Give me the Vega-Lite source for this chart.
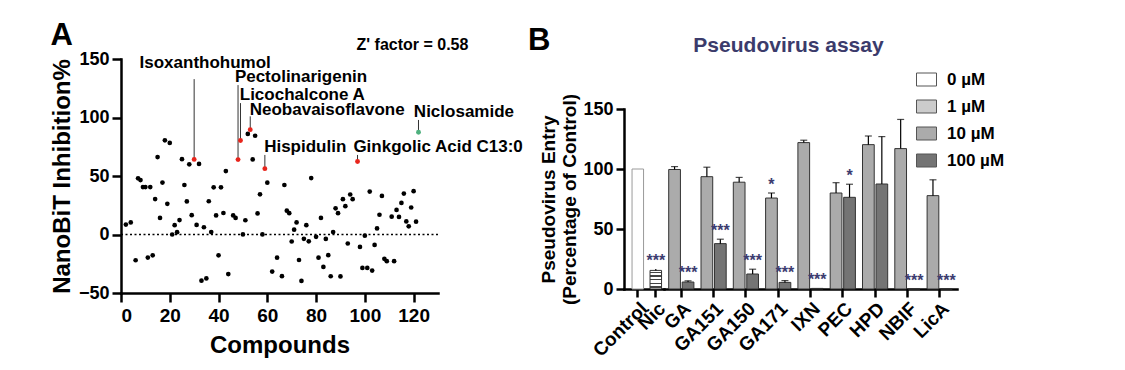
{
  "$schema": "https://vega.github.io/schema/vega-lite/v6.json",
  "padding": {"left": 50, "top": 20, "right": 5, "bottom": 5},
  "bounds": "flush",
  "spacing": 186,
  "config": {
    "font": "Liberation Sans",
    "view": {"stroke": null},
    "axis": {"domainColor": "#000", "tickColor": "#000", "labelColor": "#000", "titleColor": "#000", "labelFontWeight": "bold", "titleFontWeight": "bold", "grid": false, "domainWidth": 2.5, "tickWidth": 2.5, "domainCap": "square"}
  },
  "datasets": {
    "screen": [
      {"n":2,"v":8.5},{"n":4,"v":10.3},{"n":6,"v":-22},{"n":7,"v":48},{"n":8,"v":46.5},{"n":9,"v":40.5},{"n":10,"v":40.5},{"n":11,"v":-19.7},{"n":12,"v":40.5},{"n":13,"v":-17.8},{"n":14,"v":30.3},{"n":15,"v":66.2},{"n":16,"v":14.2},{"n":17,"v":44.4},{"n":18,"v":80.5},{"n":19,"v":26.2},{"n":20,"v":78.3},{"n":21,"v":0},{"n":22,"v":8},{"n":23,"v":2},{"n":24,"v":12.3},{"n":25,"v":64.4},{"n":26,"v":42.3},{"n":27,"v":28.3},{"n":28,"v":60},{"n":29,"v":16.5},{"n":31,"v":8.2},{"n":32,"v":60.3},{"n":33,"v":-39.5},{"n":34,"v":6.2},{"n":35,"v":-37.5},{"n":36,"v":28.4},{"n":37,"v":2.1},{"n":38,"v":40.3},{"n":39,"v":16.3},{"n":40,"v":-17.8},{"n":41,"v":40.3},{"n":42,"v":18.4},{"n":43,"v":54.2},{"n":44,"v":-33.8},{"n":46,"v":16.3},{"n":47,"v":14.2},{"n":50,"v":0.1},{"n":51,"v":12.2},{"n":52,"v":86},{"n":54,"v":64.2},{"n":55,"v":84.4},{"n":56,"v":18},{"n":57,"v":34.3},{"n":58,"v":0.1},{"n":60,"v":44.3},{"n":62,"v":-31.7},{"n":64,"v":-19.8},{"n":66,"v":-35.6},{"n":67,"v":42.3},{"n":68,"v":20.4},{"n":69,"v":18.2},{"n":70,"v":-6},{"n":71,"v":4.1},{"n":72,"v":10.3},{"n":73,"v":-21.8},{"n":74,"v":-39.7},{"n":75,"v":-3.7},{"n":76,"v":8},{"n":77,"v":-5.8},{"n":78,"v":48.2},{"n":80,"v":-2},{"n":81,"v":-19.8},{"n":82,"v":14.2},{"n":83,"v":-27.7},{"n":84,"v":-3.8},{"n":85,"v":-17.7},{"n":86,"v":-35.7},{"n":87,"v":2.1},{"n":88,"v":22.4},{"n":89,"v":18.2},{"n":90,"v":-35.8},{"n":91,"v":30.2},{"n":92,"v":24.2},{"n":93,"v":-7.7},{"n":94,"v":34.2},{"n":95,"v":30.2},{"n":98,"v":-10.6},{"n":99,"v":-28.6},{"n":100,"v":-1},{"n":101,"v":-28.6},{"n":102,"v":36.7},{"n":103,"v":-30.8},{"n":104,"v":-8.9},{"n":105,"v":5.2},{"n":106,"v":16.9},{"n":107,"v":33},{"n":108,"v":-20.8},{"n":109,"v":-22.8},{"n":111,"v":15.2},{"n":112,"v":-22.8},{"n":113,"v":21},{"n":114,"v":15},{"n":115,"v":27},{"n":116,"v":35},{"n":117,"v":11.2},{"n":118,"v":7},{"n":119,"v":23.1},{"n":120,"v":37},{"n":121,"v":11}
    ],
    "hits": [
      {"name":"Isoxanthohumol","n":30,"v":64.2,"kind":"hit","lx":7.6,"ly":147,"ltop":132.8},
      {"name":"Pectolinarigenin","n":48,"v":64,"kind":"hit","lx":46.7,"ly":135,"ltop":127.7},
      {"name":"Licochalcone A","n":49,"v":80.3,"kind":"hit","lx":48.7,"ly":119.6,"ltop":112.3},
      {"name":"Neobavaisoflavone","n":53,"v":89.6,"kind":"hit","lx":52.8,"ly":106.8,"ltop":101},
      {"name":"Hispidulin","n":59,"v":56.3,"kind":"hit","lx":58.7,"ly":74.6,"ltop":68},
      {"name":"Ginkgolic Acid C13:0","n":97,"v":62.4,"kind":"hit","lx":95.3,"ly":74.6,"ltop":68},
      {"name":"Niclosamide","n":122,"v":87.4,"kind":"control","lx":120.1,"ly":104.7,"ltop":97.9}
    ],
    "pv1": [
      {"group":"Control","conc":"0 µM","value":100,"upper":100,"sig":null},
      {"group":"Nic","conc":"1 µM","value":15.5,"upper":16.7,"sig":"***"}
    ],
    "pv2": [
      {"group":"GA","conc":"10 µM","value":99.6,"upper":102,"sig":null},
      {"group":"GA","conc":"100 µM","value":5.8,"upper":6.8,"sig":"***"},
      {"group":"GA151","conc":"10 µM","value":93.6,"upper":101.5,"sig":null},
      {"group":"GA151","conc":"100 µM","value":37.8,"upper":41.5,"sig":"***"},
      {"group":"GA150","conc":"10 µM","value":89,"upper":93,"sig":null},
      {"group":"GA150","conc":"100 µM","value":12.5,"upper":16.5,"sig":"***"},
      {"group":"GA171","conc":"10 µM","value":75.8,"upper":80,"sig":"*"},
      {"group":"GA171","conc":"100 µM","value":5.5,"upper":7,"sig":"***"},
      {"group":"IXN","conc":"10 µM","value":122,"upper":124,"sig":null},
      {"group":"IXN","conc":"100 µM","value":0.5,"upper":0.5,"sig":"***"},
      {"group":"PEC","conc":"10 µM","value":80,"upper":88.6,"sig":null},
      {"group":"PEC","conc":"100 µM","value":76.4,"upper":87.3,"sig":"*"},
      {"group":"HPD","conc":"10 µM","value":120.3,"upper":127.5,"sig":null},
      {"group":"HPD","conc":"100 µM","value":87.5,"upper":127,"sig":null},
      {"group":"NBIF","conc":"10 µM","value":117,"upper":141.3,"sig":null},
      {"group":"NBIF","conc":"100 µM","value":0,"upper":0,"sig":"***"},
      {"group":"LicA","conc":"10 µM","value":77.8,"upper":91,"sig":null},
      {"group":"LicA","conc":"100 µM","value":0,"upper":0,"sig":"***"}
    ]
  },
  "hconcat": [
    {
      "width": 317,
      "height": 234,
      "title": {"text": "A", "anchor": "start", "frame": "bounds", "fontSize": 31, "fontWeight": "bold", "color": "#000", "dx": 0, "dy": 17, "offset": 2},
      "layer": [
        {
          "data": {"values": [{"v": 0}]},
          "mark": {"type": "rule", "color": "#000", "strokeDash": [2, 2.5], "strokeWidth": 1.6},
          "encoding": {
            "y": {"field": "v", "type": "quantitative", "scale": {"domain": [-50, 150], "nice": false},
              "axis": {"values": [-50, 0, 50, 100, 150], "tickSize": 9, "labelFontSize": 18, "labelPadding": 3, "title": "NanoBiT Inhibition%", "titleFontSize": 24, "titlePadding": 4}}
          }
        },
        {
          "data": {"name": "screen"},
          "mark": {"type": "circle", "size": 22, "color": "#000", "opacity": 1},
          "encoding": {
            "x": {"field": "n", "type": "quantitative", "scale": {"domain": [0, 130], "nice": false},
              "axis": {"values": [0,10,20,30,40,50,60,70,80,90,100,110,120,130], "labelExpr": "datum.value % 20 === 0 && datum.value <= 120 ? datum.label : ''", "tickSize": {"condition": {"test": "datum.value % 20 === 0", "value": 9}, "value": 5}, "labelFontSize": 19, "labelPadding": 4, "title": "Compounds", "titleFontSize": 24, "titlePadding": 8}},
            "y": {"field": "v", "type": "quantitative", "scale": {"domain": [-50, 150], "nice": false}}
          }
        },
        {
          "data": {"name": "hits"},
          "mark": {"type": "rule", "color": "#333", "strokeWidth": 1},
          "encoding": {
            "x": {"field": "n", "type": "quantitative"},
            "y": {"field": "v", "type": "quantitative"},
            "y2": {"field": "ltop"}
          }
        },
        {
          "data": {"name": "hits"},
          "mark": {"type": "text", "align": "left", "baseline": "middle", "fontSize": 17, "fontWeight": "bold", "color": "#000"},
          "encoding": {
            "x": {"field": "lx", "type": "quantitative"},
            "y": {"field": "ly", "type": "quantitative"},
            "text": {"field": "name"}
          }
        },
        {
          "data": {"name": "hits"},
          "mark": {"type": "circle", "size": 24, "opacity": 1},
          "encoding": {
            "x": {"field": "n", "type": "quantitative"},
            "y": {"field": "v", "type": "quantitative"},
            "color": {"condition": {"test": "datum.kind === 'control'", "value": "#4fb07e"}, "value": "#e8251c"}
          }
        },
        {
          "data": {"values": [{"t": "Z' factor = 0.58", "n": 96.6, "v": 161.7}]},
          "mark": {"type": "text", "align": "left", "baseline": "middle", "fontSize": 16, "fontWeight": "bold", "color": "#000"},
          "encoding": {
            "x": {"field": "n", "type": "quantitative"},
            "y": {"field": "v", "type": "quantitative"},
            "text": {"field": "t"}
          }
        }
      ]
    },
    {
      "title": {"text": "B", "anchor": "start", "frame": "bounds", "fontSize": 31, "fontWeight": "bold", "color": "#000", "dx": -12, "dy": 24, "offset": 2},
      "bounds": "flush",
      "spacing": 0,
      "vconcat": [
        {
          "width": 333,
          "height": 50,
          "data": {"values": []},
          "mark": "point",
          "title": {"text": "Pseudovirus assay", "anchor": "middle", "fontSize": 21, "fontWeight": "bold", "color": "#3b3b6b", "offset": 3, "dx": -2}
        },
        {
          "bounds": "flush",
          "spacing": 0,
          "resolve": {"scale": {"fill": "independent"}},
          "hconcat": [
            {
              "width": 40,
              "height": 180,
              "data": {"name": "pv1"},
              "layer": [
                {
                  "mark": {"type": "bar", "strokeWidth": 1},
                  "encoding": {
                    "x": {"field": "group", "type": "nominal", "sort": null, "scale": {"paddingInner": 0.36, "paddingOuter": 0.291, "align": 0.767, "round": false},
                      "axis": {"title": null, "labelAngle": -45, "labelFontSize": 19, "tickSize": 8, "labelPadding": 2}},
                    "y": {"field": "value", "type": "quantitative", "scale": {"domain": [0, 150], "nice": false},
                      "axis": {"values": [0, 50, 100, 150], "tickSize": 8, "labelFontSize": 18, "labelPadding": 3, "title": ["Pseudovirus Entry", "(Percentage of Control)"], "titleFontSize": 19, "titlePadding": 3, "titleLineHeight": 21}},
                    "fill": {
                      "condition": {"test": "datum.conc === '1 µM'", "value": {"gradient": "linear", "x1": 0, "y1": 0, "x2": 0, "y2": 1, "stops": [
                        {"offset": 0, "color": "#ffffff"}, {"offset": 0.06, "color": "#ffffff"}, {"offset": 0.06, "color": "#444444"}, {"offset": 0.14, "color": "#444444"}, {"offset": 0.14, "color": "#ffffff"},
                        {"offset": 0.26, "color": "#ffffff"}, {"offset": 0.26, "color": "#444444"}, {"offset": 0.34, "color": "#444444"}, {"offset": 0.34, "color": "#ffffff"},
                        {"offset": 0.46, "color": "#ffffff"}, {"offset": 0.46, "color": "#444444"}, {"offset": 0.54, "color": "#444444"}, {"offset": 0.54, "color": "#ffffff"},
                        {"offset": 0.66, "color": "#ffffff"}, {"offset": 0.66, "color": "#444444"}, {"offset": 0.74, "color": "#444444"}, {"offset": 0.74, "color": "#ffffff"},
                        {"offset": 0.86, "color": "#ffffff"}, {"offset": 0.86, "color": "#444444"}, {"offset": 0.94, "color": "#444444"}, {"offset": 0.94, "color": "#ffffff"}, {"offset": 1, "color": "#ffffff"}]}},
                      "field": "conc", "type": "nominal", "scale": {"domain": ["0 µM", "1 µM", "10 µM", "100 µM"], "range": ["#ffffff", "#cccccc", "#ababab", "#747474"]}, "legend": null},
                    "stroke": {"condition": {"test": "datum.conc === '0 µM'", "value": "#9a9a9a"}, "value": "#333"}
                  }
                },
                {
                  "transform": [{"filter": "datum.upper > datum.value"}],
                  "mark": {"type": "rule", "color": "#000", "strokeWidth": 1.2},
                  "encoding": {
                    "x": {"field": "group", "type": "nominal", "sort": null},
                    "y": {"field": "value", "type": "quantitative"},
                    "y2": {"field": "upper"}
                  }
                },
                {
                  "transform": [{"filter": "datum.sig"}],
                  "mark": {"type": "text", "fontSize": 16, "fontWeight": "bold", "color": "#3c3c70", "baseline": "alphabetic", "dy": -3},
                  "encoding": {
                    "x": {"field": "group", "type": "nominal", "sort": null},
                    "y": {"field": "upper", "type": "quantitative"},
                    "text": {"field": "sig"}
                  }
                }
              ]
            },
            {
              "width": 293,
              "height": 180,
              "data": {"name": "pv2"},
              "layer": [
                {
                  "mark": {"type": "bar", "strokeWidth": 1, "stroke": "#333"},
                  "encoding": {
                    "x": {"field": "group", "type": "nominal", "sort": null, "scale": {"paddingInner": 0.22, "paddingOuter": 0.1456, "round": false},
                      "axis": {"title": null, "labelAngle": -45, "labelFontSize": 19, "tickSize": 8, "labelPadding": 2}},
                    "xOffset": {"field": "conc", "type": "nominal", "scale": {"domain": ["10 µM", "100 µM"], "paddingInner": 0.13, "paddingOuter": 0}},
                    "y": {"field": "value", "type": "quantitative", "scale": {"domain": [0, 150], "nice": false}, "axis": null},
                    "fill": {"field": "conc", "type": "nominal", "scale": {"domain": ["0 µM", "1 µM", "10 µM", "100 µM"], "range": ["#ffffff", "#cccccc", "#ababab", "#747474"]},
                      "legend": {"orient": "none", "legendX": 252, "legendY": -40, "title": null, "symbolType": "M-1,-0.65H1V0.65H-1Z", "symbolSize": 400, "symbolStrokeColor": "#555", "symbolStrokeWidth": 1, "labelFontSize": 17, "labelFontWeight": "bold", "labelColor": "#000", "labelOffset": 10, "rowPadding": 8}}
                  }
                },
                {
                  "transform": [{"filter": "datum.upper > datum.value"}],
                  "mark": {"type": "rule", "color": "#000", "strokeWidth": 1.2},
                  "encoding": {
                    "x": {"field": "group", "type": "nominal", "sort": null},
                    "xOffset": {"field": "conc", "type": "nominal"},
                    "y": {"field": "value", "type": "quantitative", "axis": null},
                    "y2": {"field": "upper"}
                  }
                },
                {
                  "transform": [{"filter": "datum.upper > datum.value"}],
                  "mark": {"type": "tick", "color": "#000", "thickness": 1.2},
                  "encoding": {
                    "x": {"field": "group", "type": "nominal", "sort": null},
                    "xOffset": {"field": "conc", "type": "nominal"},
                    "y": {"field": "upper", "type": "quantitative", "axis": null},
                    "size": {"value": 7}
                  }
                },
                {
                  "transform": [{"filter": "datum.sig"}],
                  "mark": {"type": "text", "fontSize": 16, "fontWeight": "bold", "color": "#3c3c70", "baseline": "alphabetic", "dy": -3},
                  "encoding": {
                    "x": {"field": "group", "type": "nominal", "sort": null},
                    "xOffset": {"field": "conc", "type": "nominal"},
                    "y": {"field": "upper", "type": "quantitative", "axis": null},
                    "text": {"field": "sig"}
                  }
                }
              ]
            }
          ]
        }
      ]
    }
  ]
}
